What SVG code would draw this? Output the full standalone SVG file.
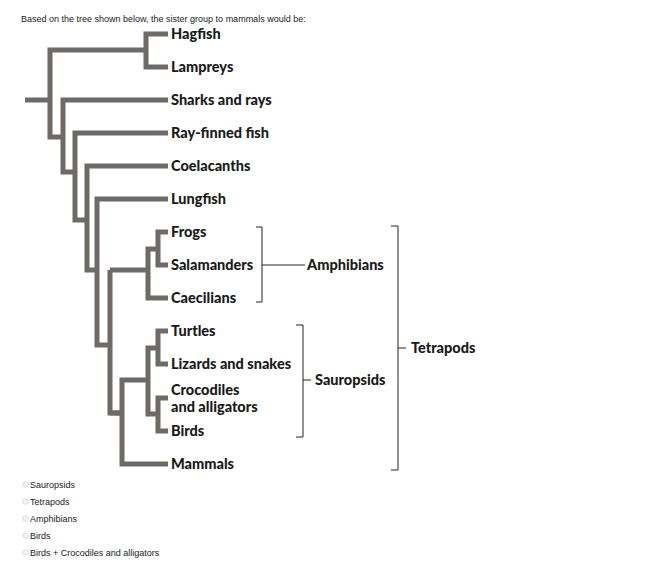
<svg xmlns="http://www.w3.org/2000/svg" width="650" height="576" viewBox="0 0 650 576">
<style>
.t{font-family:Lato,"Liberation Sans",sans-serif;font-weight:900;font-size:14.5px;fill:#1a1a1a}
.s{font-family:"Liberation Sans",Arial,sans-serif;font-size:9px;fill:#222}
.br{fill:none;stroke:#222;stroke-width:1}
.rd{fill:#f2f2f2;stroke:#ccc;stroke-width:0.6}
</style>
<rect width="650" height="576" fill="#fff"/>
<text class="s" x="21" y="22">Based on the tree shown below, the sister group to mammals would be:</text>
<g id="connectors" fill="none" stroke="#6e6a67" stroke-width="5" stroke-linejoin="miter" stroke-linecap="butt">
<path d="M25 100H50M168 34H146V67H168M146 50H50V137H63M168 100H63V172H75M168 133H75V220H87M168 166H87V270H97M168 199H97V345H110M110 270V413H122"/>
<path d="M168 232H158V265H168M158 249H148V298H168M148 270H110"/>
<path d="M168 331H158V364H168M158 348H148V414H158M168 398H158V431H168M148 380H122V464H168M122 413H110"/>
</g>
<g id="brackets">
<path class="br" d="M256 227H262V302H256M262 265H305"/>
<path class="br" d="M296 325H303V437H296M303 380H311"/>
<path class="br" d="M391 226H398V470H391M398 348H406"/>
</g>
<g id="tips">
<text class="t" x="171" y="39">Hagfish</text>
<text class="t" x="171" y="72">Lampreys</text>
<text class="t" x="171" y="105">Sharks and rays</text>
<text class="t" x="171" y="138">Ray-finned fish</text>
<text class="t" x="171" y="171">Coelacanths</text>
<text class="t" x="171" y="204">Lungfish</text>
<text class="t" x="171" y="237">Frogs</text>
<text class="t" x="171" y="270">Salamanders</text>
<text class="t" x="171" y="303">Caecilians</text>
<text class="t" x="171" y="336">Turtles</text>
<text class="t" x="171" y="369">Lizards and snakes</text>
<text class="t" x="171" y="395">Crocodiles</text>
<text class="t" x="171" y="412">and alligators</text>
<text class="t" x="171" y="436">Birds</text>
<text class="t" x="171" y="469">Mammals</text>
</g>
<g id="groups">
<text class="t" x="307" y="270">Amphibians</text>
<text class="t" x="315" y="385">Sauropsids</text>
<text class="t" x="411" y="353">Tetrapods</text>
</g>
<g id="options">
<circle class="rd" cx="25.5" cy="484.5" r="2.8"/><text class="s" x="30" y="487.5">Sauropsids</text>
<circle class="rd" cx="25.5" cy="501.5" r="2.8"/><text class="s" x="30" y="504.5">Tetrapods</text>
<circle class="rd" cx="25.5" cy="518.5" r="2.8"/><text class="s" x="30" y="521.5">Amphibians</text>
<circle class="rd" cx="25.5" cy="535.5" r="2.8"/><text class="s" x="30" y="538.5">Birds</text>
<circle class="rd" cx="25.5" cy="552.5" r="2.8"/><text class="s" x="30" y="555.5">Birds + Crocodiles and alligators</text>
</g>
</svg>
